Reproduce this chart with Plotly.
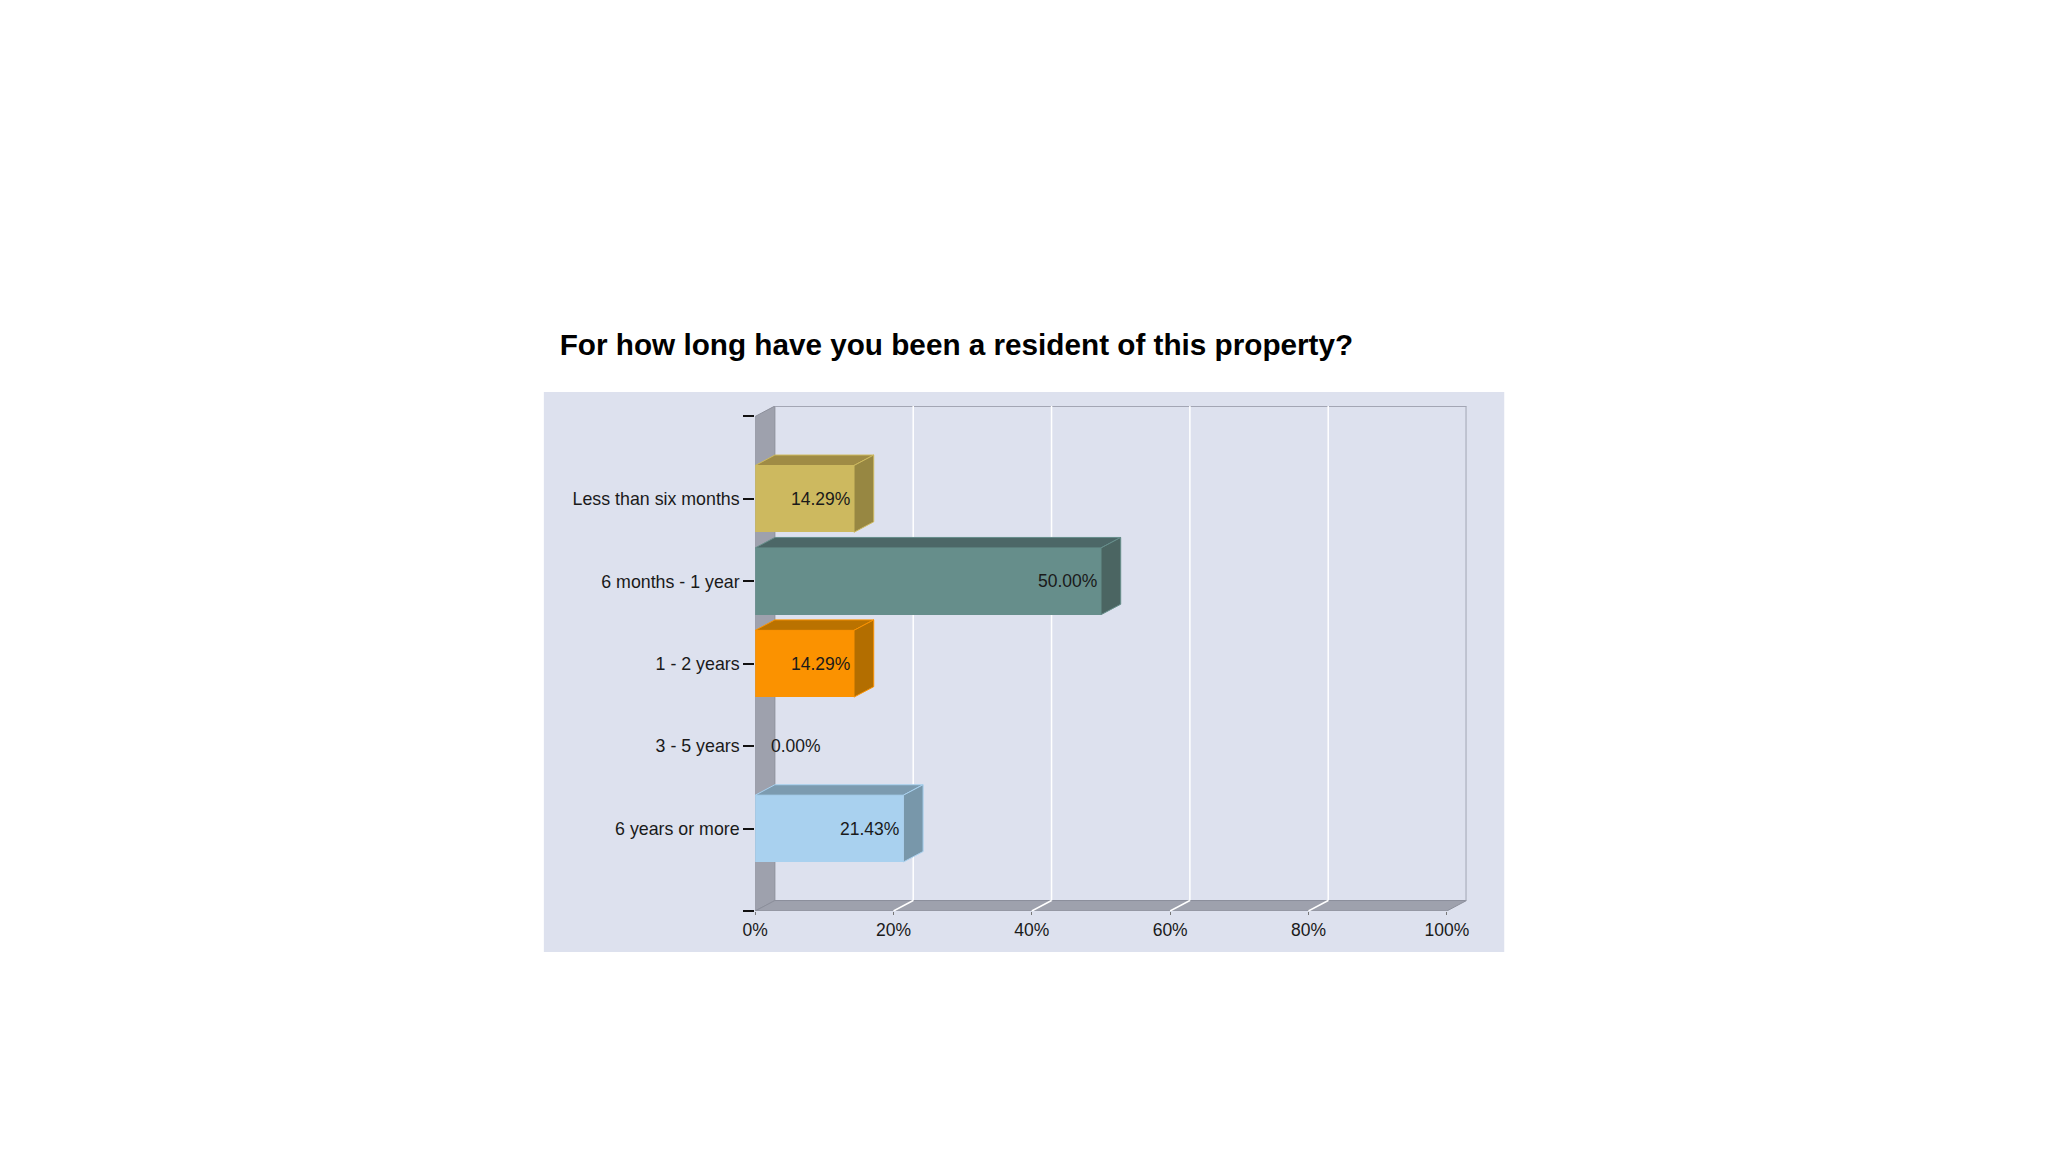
import plotly.graph_objects as go

# survey results, top to bottom
categories = ["Less than six months", "6 months - 1 year", "1 - 2 years", "3 - 5 years", "6 years or more"]
percent = [14.29, 50.00, 14.29, 0.00, 21.43]
x_ticks = [0, 20, 40, 60, 80, 100]
x_labels = ["0%", "20%", "40%", "60%", "80%", "100%"]

front_colors = ["#CDB95F", "#668E8B", "#FB9200", "#A9D1EF"]
top_colors = ["#9F8B45", "#4C6767", "#BA7200", "#7C9BB0"]
side_colors = ["#978742", "#4B6562", "#B36E00", "#7897AA"]
# one colour per non-empty bar, zero bar has none
color_index = [0, 1, 2, None, 3]

FONT = "Liberation Sans"
PANEL = "#DDE1EE"
WALL = "#9EA1AD"

# page has an 8px body margin, so figure is smaller and everything moves by 8
W, H, PAGE = 2032, 1136, 8


def fx(px):
    return (px - PAGE) / W


def fy(px):
    return 1 - (px - PAGE) / H


# fake 3d depth, in axis units
DX = 2.85
DY = 0.127
BAR_W = 0.81
N = len(categories)
y_pos = [N - i for i in range(N)]

fig = go.Figure()

# panel, walls and back grid
shapes = [
    dict(type="rect", xref="paper", yref="paper", x0=fx(535), x1=fx(1503),
         y0=fy(952), y1=fy(392), fillcolor=PANEL, line_width=0, layer="below"),
    dict(type="path", xref="x", yref="y", layer="below", fillcolor=WALL, line=dict(color="#8C8F9B", width=1),
         path=f"M 0 0 L 0 {N + 1} L {DX} {N + 1 + DY} L {DX} {DY} Z"),
    dict(type="path", xref="x", yref="y", layer="below", fillcolor=WALL, line=dict(color="#8C8F9B", width=1),
         path=f"M 0 0 L 100 0 L {100 + DX} {DY} L {DX} {DY} Z"),
    dict(type="line", xref="x", yref="y", layer="below", x0=DX, x1=100 + DX, y0=N + 1 + DY, y1=N + 1 + DY,
         line=dict(color="#A3A6B4", width=2)),
    dict(type="line", xref="x", yref="y", layer="below", x0=100 + DX, x1=100 + DX, y0=DY, y1=N + 1 + DY,
         line=dict(color="#A3A6B4", width=2)),
]
for t in x_ticks[1:-1]:
    shapes.append(dict(type="line", xref="x", yref="y", layer="below", x0=t + DX, x1=t + DX,
                       y0=DY, y1=N + 1 + DY, line=dict(color="white", width=1.5)))
    shapes.append(dict(type="line", xref="x", yref="y", layer="below", x0=t, x1=t + DX,
                       y0=0, y1=DY, line=dict(color="white", width=1.5)))

# front faces
bars = [(v, y, c) for v, y, c in zip(percent, y_pos, color_index) if c is not None]
fig.add_trace(go.Bar(
    x=[b[0] for b in bars],
    y=[b[1] for b in bars],
    orientation="h",
    width=BAR_W,
    marker=dict(color=[front_colors[b[2]] for b in bars], line=dict(width=0)),
    showlegend=False,
))

# top and side faces
for v, y, c in bars:
    top = y + BAR_W / 2
    low = y - BAR_W / 2
    fig.add_trace(go.Scatter(
        x=[0, DX, v + DX, v, 0], y=[top, top + DY, top + DY, top, top],
        mode="lines", fill="toself", fillcolor=top_colors[c],
        line=dict(color=front_colors[c], width=1), showlegend=False,
    ))
    fig.add_trace(go.Scatter(
        x=[v, v + DX, v + DX, v, v], y=[low, low + DY, top + DY, top, low],
        mode="lines", fill="toself", fillcolor=side_colors[c],
        line=dict(color=front_colors[c], width=1), showlegend=False,
    ))

# value labels
annotations = []
for v, y in zip(percent, y_pos):
    annotations.append(dict(
        x=v, y=y, xref="x", yref="y", text=f"{v:.2f}%", showarrow=False,
        xanchor="right" if v > 0 else "left", xshift=-2 if v > 0 else 14,
        font=dict(family=FONT, size=17.5, color="#1A1A1A"),
    ))

fig.update_layout(
    width=W,
    height=H,
    margin=dict(l=0, r=0, t=0, b=0),
    paper_bgcolor="white",
    plot_bgcolor="rgba(0,0,0,0)",
    title=dict(
        text="<b>For how long have you been a resident of this property?</b>",
        x=fx(551), xanchor="left", xref="paper",
        y=fy(345), yanchor="middle", yref="paper",
        font=dict(family=FONT, size=29.7, color="black"),
    ),
    shapes=shapes,
    annotations=annotations,
    bargap=0,
    xaxis=dict(
        domain=[fx(748), fx(1465)],
        range=[0, 100 + DX],
        tickvals=x_ticks,
        ticktext=x_labels,
        ticks="outside",
        ticklen=3,
        tickcolor="#777777",
        showgrid=False,
        zeroline=False,
        showline=False,
        tickfont=dict(family=FONT, size=17.5, color="#1A1A1A"),
    ),
    yaxis=dict(
        domain=[fy(911), fy(406)],
        range=[0, N + 1 + DY],
        tickvals=[0] + y_pos + [N + 1],
        ticktext=[""] + categories + [""],
        ticks="outside",
        ticklen=11,
        tickcolor="#111111",
        tickwidth=1.5,
        showgrid=False,
        zeroline=False,
        showline=False,
        tickfont=dict(family=FONT, size=17.8, color="#1A1A1A"),
    ),
)

fig.write_html("out.html")
